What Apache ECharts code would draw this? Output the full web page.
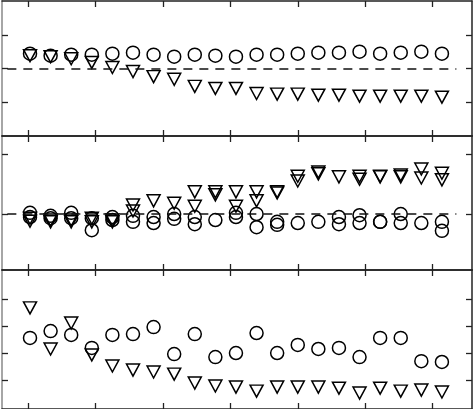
<!DOCTYPE html>
<html><head><meta charset="utf-8">
<script src="https://cdn.jsdelivr.net/npm/echarts@6/dist/echarts.min.js"></script>
<style>html,body{margin:0;padding:0;background:#fff}#c{width:474px;height:409px}</style>
</head><body><div id="c"></div>
<script>
var xIdx = [1,2,3,4,5,6,7,8,9,10,11,12,13,14,15,16,17,18,19,20,21];
var xTicks = [0.9,4.17,7.45,10.72,14,17.27,20.55];
var p1Circ = [2.44,2.38,2.41,2.41,2.44,2.47,2.41,2.35,2.41,2.38,2.35,2.41,2.41,2.44,2.47,2.47,2.5,2.44,2.47,2.5,2.44];
var p1Tri = [2.38,2.35,2.29,2.18,2.03,1.91,1.76,1.68,1.47,1.41,1.41,1.26,1.24,1.24,1.21,1.21,1.18,1.18,1.18,1.18,1.15];
var p2TriA = [-0.07,-0.1,-0.1,-0.07,-0.1,0.15,0.22,0.18,0.37,0.37,0.37,0.37,0.37,0.63,0.7,0.62,0.63,0.63,0.65,0.75,0.68];
var p2TriB = [-0.12,-0.13,-0.13,-0.13,-0.13,0.05,null,null,0.13,0.32,0.13,0.22,0.35,0.55,0.67,null,0.58,0.62,0.62,0.6,0.57];
var p2CircA = [0.02,-0.03,0.02,-0.07,-0.05,-0.03,-0.05,0,-0.05,-0.1,0.02,0,-0.13,-0.15,-0.13,-0.05,-0.02,-0.13,0,-0.15,-0.13];
var p2CircB = [-0.05,-0.07,-0.07,-0.27,-0.1,-0.13,-0.15,-0.08,-0.17,null,-0.05,-0.22,-0.18,null,null,-0.17,-0.15,-0.13,-0.15,null,-0.28];
var p3Circ = [1.56,1.81,1.67,1.19,1.67,1.7,1.96,0.96,1.7,0.85,1.0,1.74,1.0,1.3,1.15,1.19,0.85,1.56,1.56,0.7,0.67];
var p3Tri = [2.67,1.15,2.11,0.93,0.52,0.37,0.3,0.22,-0.11,-0.22,-0.26,-0.41,-0.26,-0.26,-0.26,-0.3,-0.48,-0.3,-0.41,-0.37,-0.44];

var panels = [
  {top:1, h:135, ymin:0, ymax:4, yt:[1,2,3], dash:2, series:[[p1Circ,'circle'],[p1Tri,'tri']]},
  {top:136, h:134, ymin:-0.933, ymax:1.3, yt:[0,1], dash:0, series:[[p2CircA,'circle'],[p2CircB,'circle'],[p2TriA,'tri'],[p2TriB,'tri']]},
  {top:270, h:139, ymin:-1.07, ymax:4.07, yt:[0,1,2,3], dash:null, series:[[p3Circ,'circle'],[p3Tri,'tri']]}
];
var grid=[],xAxis=[],yAxis=[],series=[];
panels.forEach(function(p,g){
  grid.push({left:2,right:2,top:p.top,height:p.h});
  ['bottom','top'].forEach(function(pos){
    xAxis.push({type:'value',gridIndex:g,position:pos,min:-0.36,max:22.46,axisLine:{show:true,onZero:false,lineStyle:{color:'#222',width:1.5}},
      axisTick:{show:true,inside:true,length:6,customValues:xTicks,lineStyle:{color:'#222',width:1.3}},axisLabel:{show:false},splitLine:{show:false}});
  });
  ['left','right'].forEach(function(pos){
    yAxis.push({type:'value',gridIndex:g,position:pos,min:p.ymin,max:p.ymax,axisLine:{show:true,onZero:false,lineStyle:{color:pos=='left'?'#888':'#222',width:1.5}},
      axisTick:{show:true,inside:true,length:6,customValues:p.yt,lineStyle:{color:'#222',width:1.3}},axisLabel:{show:false},splitLine:{show:false}});
  });
  p.series.forEach(function(s,k){
    var o={type:'scatter',xAxisIndex:g*2,yAxisIndex:g*2,
      data:xIdx.map(function(x,i){return s[0][i]==null?null:[x,s[0][i]];}).filter(function(d){return d;}),
      symbol:s[1]=='circle'?'circle':'triangle',symbolRotate:s[1]=='circle'?0:180,
      symbolSize:s[1]=='circle'?13:[13,12],
      itemStyle:{color:'rgba(255,255,255,0)',borderColor:'#000',borderWidth:1.5,opacity:1},silent:true};
    if(k==0 && p.dash!=null){
      o.markLine={silent:true,symbol:'none',label:{show:false},lineStyle:{color:'#111',type:[9,7],width:1.5},
        data:[[{coord:[-0.1,p.dash]},{coord:[21.7,p.dash]}]]};
    }
    series.push(o);
  });
});
var chart=echarts.init(document.getElementById('c'));
chart.setOption({animation:false,grid:grid,xAxis:xAxis,yAxis:yAxis,series:series});
</script></body></html>
